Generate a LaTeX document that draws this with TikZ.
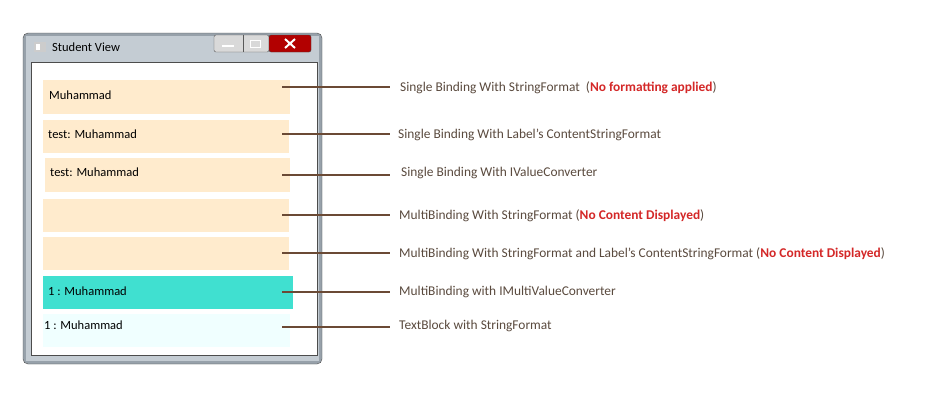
\documentclass[tikz,border=0pt]{standalone}
\usepackage{fontspec}
\setmainfont{Carlito}
\definecolor{bisq}{HTML}{FFEBCD}
\definecolor{turq}{HTML}{40E0D0}
\definecolor{azu}{HTML}{F0FFFF}
\definecolor{lnc}{HTML}{6B4A35}
\definecolor{lbl}{HTML}{5A4A3E}
\definecolor{redb}{HTML}{D42828}
\definecolor{frm}{HTML}{9DAAB5}
\begin{document}
\begin{tikzpicture}[x=1pt,y=-1pt,
  item/.style={anchor=north west,inner sep=0pt,minimum height=34pt,text=black},
  itxt/.style={anchor=west,inner sep=0pt,font=\fontsize{12.5}{14}\selectfont},
  lbltxt/.style={anchor=west,inner sep=0pt,font=\fontsize{13.4}{15}\selectfont,text=lbl},
  conn/.style={draw=lnc,line width=2pt}]
\useasboundingbox (0,0) rectangle (935,418);
\fill[white] (0,0) rectangle (935,418);
% window
\fill[rounded corners=5pt,frm!80!gray] (23,33) rectangle (322,364);
\fill[frm!60!white] (26,36) rectangle (319,361);
\draw[gray!60!black,rounded corners=5pt] (23,33) rectangle (322,364);
\fill[white] (31,62) rectangle (317,355);
\draw[gray!60!black] (31,62) rectangle (317,355);
\node[itxt] (title) at (52,47) {Student View};
\fill[gray!40] (34,42) rectangle (46,52);
\fill[white] (36,44) rectangle (40,50);
\draw[gray!70!black,rounded corners=2pt,fill=gray!30] (214,35) rectangle (269,52);
\draw[gray!70!black] (243,35) -- (243,52);
\fill[white] (222,45) rectangle (234,47);
\draw[white,line width=1pt] (250,40) rectangle (260,47);
\draw[gray!50!black,rounded corners=2pt,fill=red!70!black] (269,35) rectangle (311,52);
\draw[white,line width=2pt] (285,39) -- (295,48) (285,48) -- (295,39);
% items
\node[item,fill=bisq,minimum width=247pt] (b1) at (43,80) {};
\node[itxt] (t1) at (49,95) {Muhammad};
\node[item,fill=bisq,minimum width=246pt,minimum height=33pt] (b2) at (43,120) {};
\node[itxt] (t2) at (48,134) {test: Muhammad};
\node[item,fill=bisq,minimum width=245pt] (b3) at (45,158) {};
\node[itxt] (t3) at (50,172) {test: Muhammad};
\node[item,fill=bisq,minimum width=246pt,minimum height=33pt] (b4) at (43,199) {};
\node[item,fill=bisq,minimum width=246pt,minimum height=33pt] (b5) at (43,237) {};
\node[item,fill=turq,minimum width=250pt,minimum height=33pt] (b6) at (43,276) {};
\node[itxt] (t6) at (48,291) {1 : Muhammad};
\node[item,fill=azu,minimum width=247pt,minimum height=33pt] (b7) at (43,314) {};
\node[itxt] (t7) at (44,325) {1 : Muhammad};
% labels
\node[lbltxt] (l1) at (400,88) {Single Binding With StringFormat \ ({\color{redb}\bfseries No formatting applied})};
\node[lbltxt] (l2) at (398,135) {Single Binding With Label's ContentStringFormat};
\node[lbltxt] (l3) at (401,173) {Single Binding With IValueConverter};
\node[lbltxt] (l4) at (399,216) {MultiBinding With StringFormat ({\color{redb}\bfseries No Content Displayed})};
\node[lbltxt] (l5) at (399,254) {MultiBinding With StringFormat and Label's ContentStringFormat ({\color{redb}\bfseries No Content Displayed})};
\node[lbltxt] (l6) at (399,292) {MultiBinding with IMultiValueConverter};
\node[lbltxt] (l7) at (399,326) {TextBlock with StringFormat};
% connectors
\coordinate (c1) at (282,87); \coordinate (e1) at (390,87);
\coordinate (c2) at (282,134); \coordinate (e2) at (390,134);
\coordinate (c3) at (282,175); \coordinate (e3) at (390,175);
\coordinate (c4) at (282,215); \coordinate (e4) at (390,215);
\coordinate (c5) at (282,253); \coordinate (e5) at (390,253);
\coordinate (c6) at (282,292); \coordinate (e6) at (390,292);
\coordinate (c7) at (282,327); \coordinate (e7) at (390,327);
\foreach \i in {1,...,7} {\draw[conn] (c\i) -- (e\i);}
\end{tikzpicture}
\end{document}
